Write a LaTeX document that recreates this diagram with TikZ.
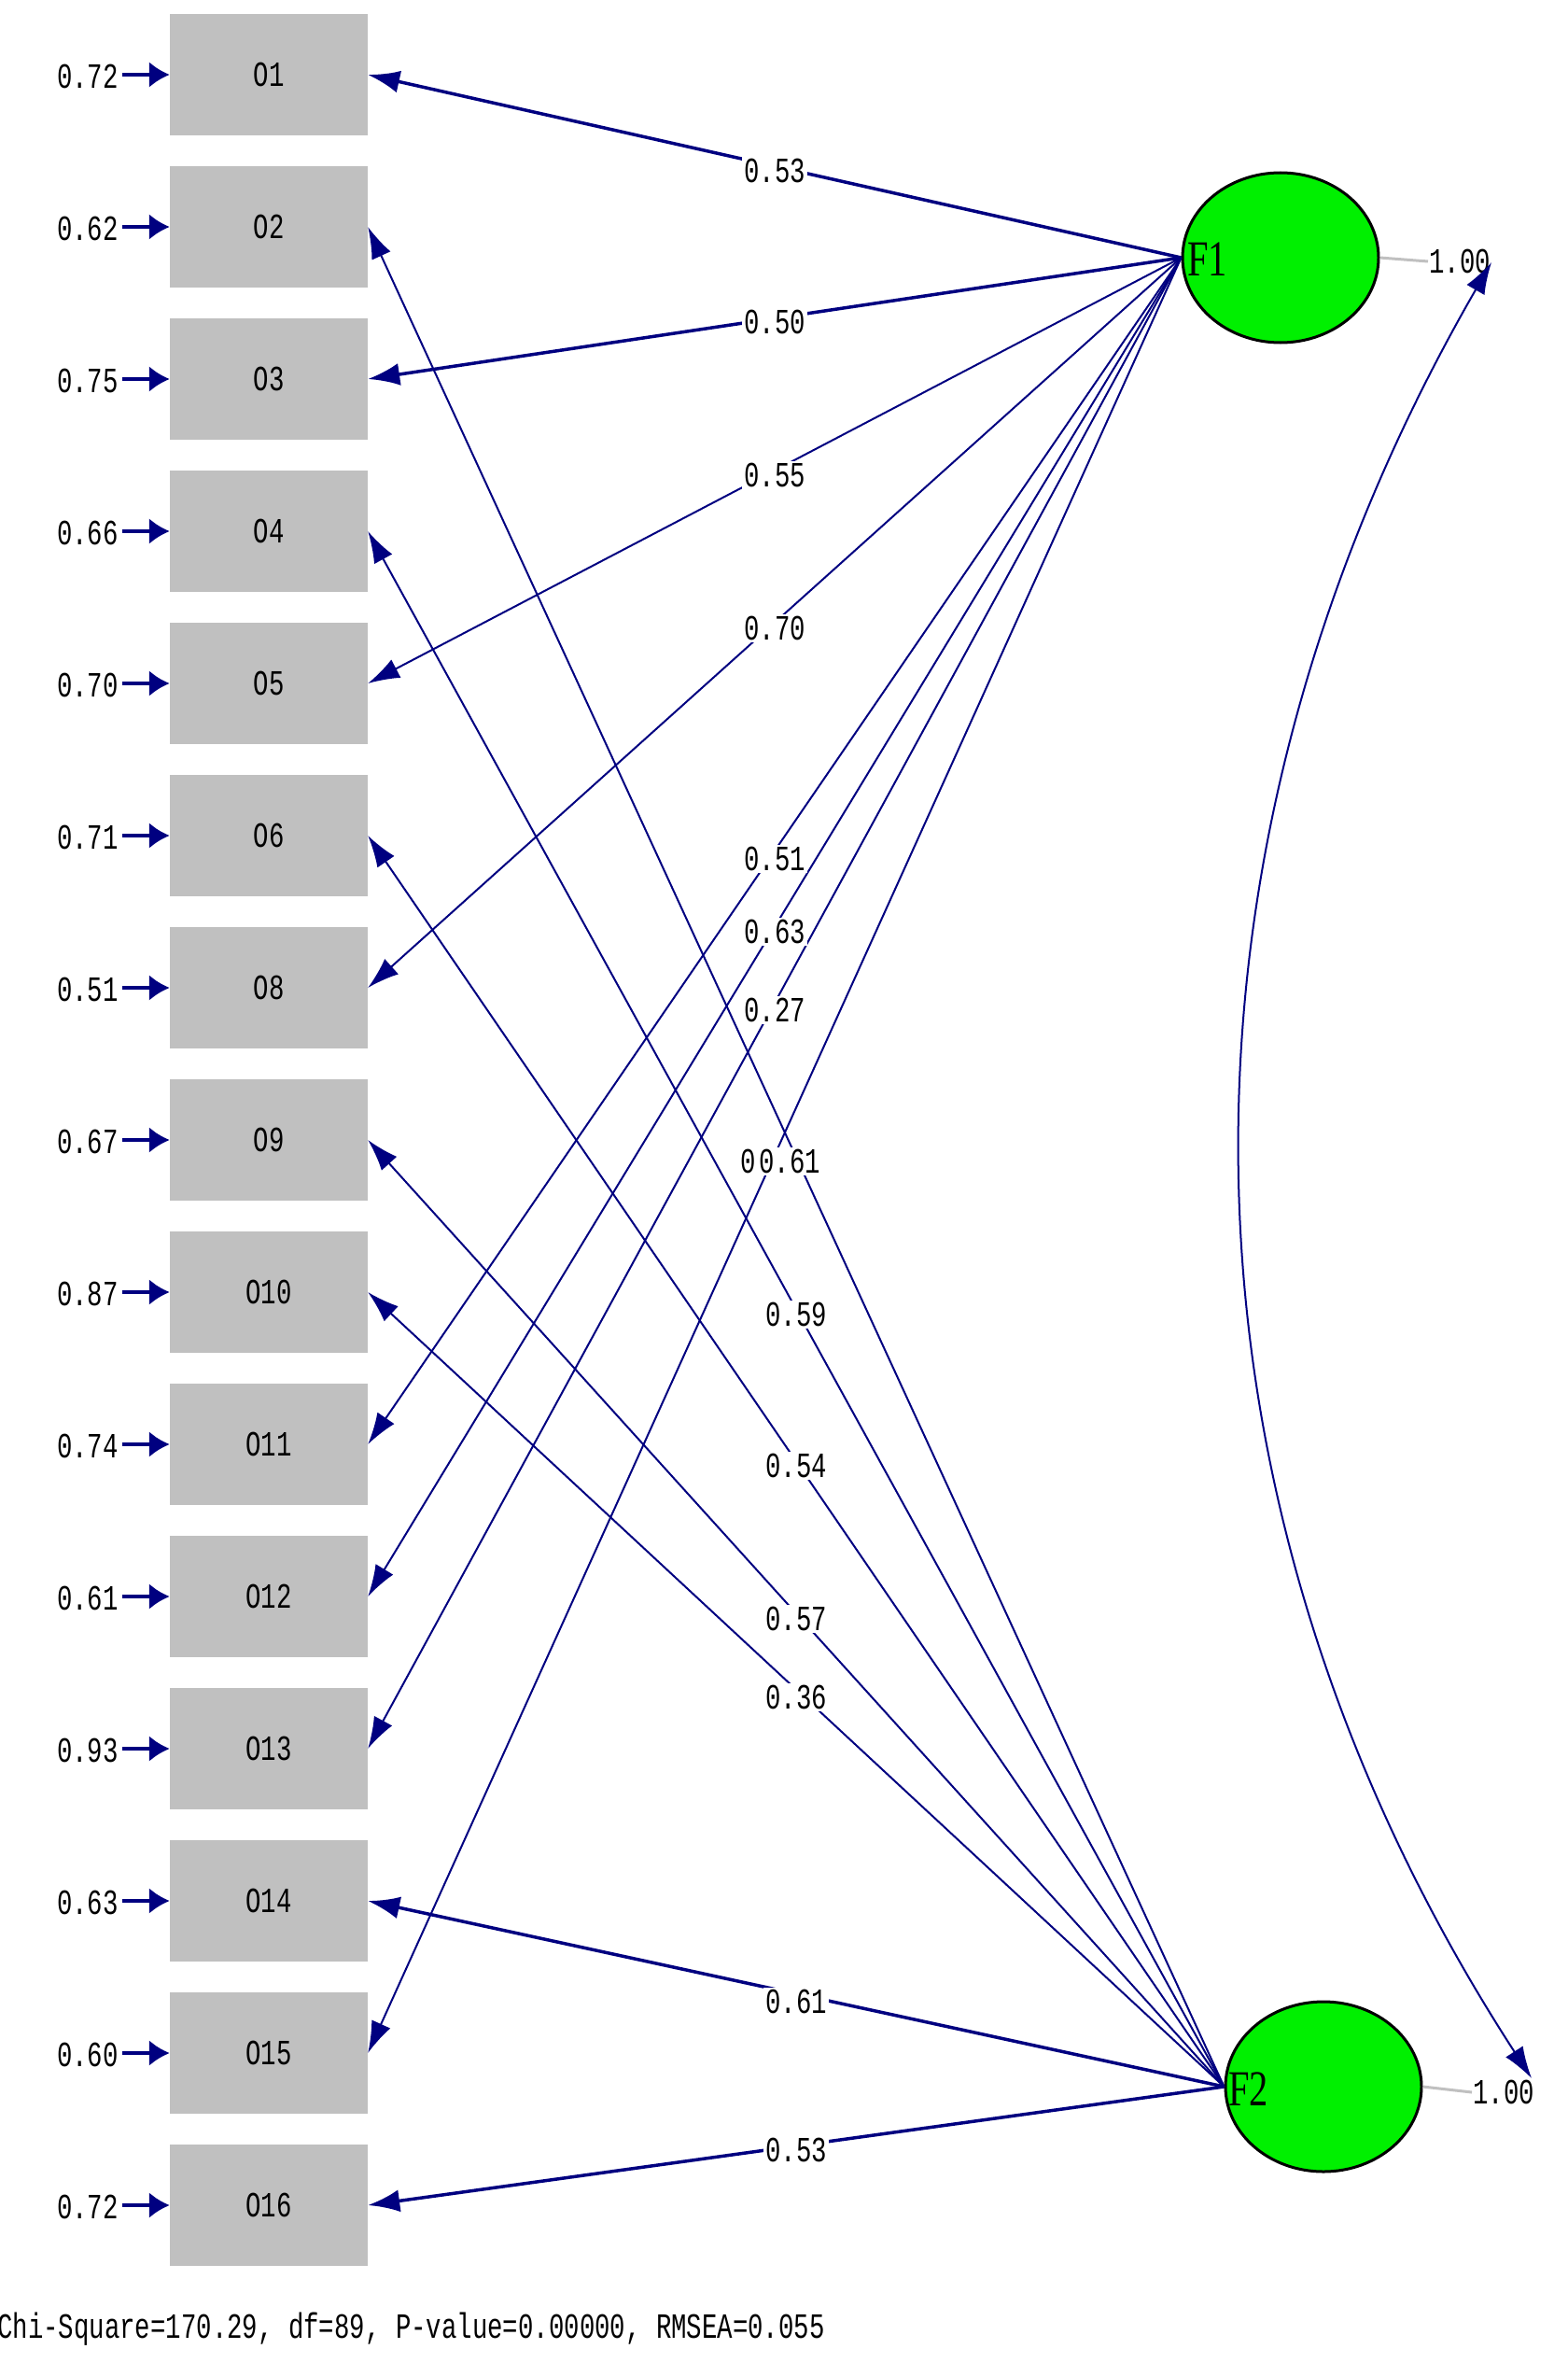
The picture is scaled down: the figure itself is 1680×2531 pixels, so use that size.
\documentclass[tikz,border=0pt]{standalone}
\usepackage{fontspec}
\usetikzlibrary{arrows.meta,shapes.geometric}
\newfontfamily\pxmono[FakeStretch=0.72]{Liberation Mono}
\newfontfamily\pxserif[FakeStretch=0.75]{Liberation Serif}
\definecolor{navyc}{RGB}{0,0,128}
\definecolor{boxg}{RGB}{192,192,192}
\definecolor{latg}{RGB}{0,240,0}
\tikzset{
  obsbox/.style={fill=boxg,draw=none,minimum width=212pt,minimum height=130pt,inner sep=0pt,font=\pxmono\fontsize{38}{38}\selectfont},
  errlab/.style={inner sep=0pt,anchor=east,font=\pxmono\fontsize{38}{38}\selectfont},
  errarr/.style={draw=navyc,line width=4pt,-{Latex[length=22pt,width=28pt]}},
  load/.style={draw=navyc,line width=2pt,-{Latex[length=34pt,width=22pt]}},
  loadthick/.style={draw=navyc,line width=3.5pt,-{Latex[length=34pt,width=24pt]}},
  coeff/.style={fill=white,inner sep=2pt,font=\pxmono\fontsize{38}{38}\selectfont},
  latent/.style={ellipse,fill=latg,draw=black,line width=3pt,minimum width=210pt,minimum height=182pt,inner sep=0pt},
  varline/.style={draw=boxg,line width=3pt},
  varlab/.style={inner sep=1pt,anchor=west,font=\pxmono\fontsize{38}{38}\selectfont},
  covarr/.style={draw=navyc,line width=2pt,{Latex[length=34pt,width=22pt]}-{Latex[length=34pt,width=22pt]}}
}
\begin{document}
\begin{tikzpicture}[x=1pt,y=-1pt]
\useasboundingbox (0,0) rectangle (1680,2531);
\begin{scope}
\clip (0,0) rectangle (1680,2531);
% observed boxes and error terms
\foreach \id/\k/\ev in {1/0/0.72,2/1/0.62,3/2/0.75,4/3/0.66,5/4/0.70,6/5/0.71,8/6/0.51,9/7/0.67,10/8/0.87,11/9/0.74,12/10/0.61,13/11/0.93,14/12/0.63,15/13/0.60,16/14/0.72}{
  \node[obsbox] (o\id) at (288,80+163*\k) {O\id};
  \node[errlab] (e\id) at (127,82+163*\k) {\ev};
  \draw[errarr] (e\id.east) ++(4,-2) coordinate (es\id) (es\id) -- (o\id.west);
}
% latent variables
\node[latent] (F1) at (1372,276) {};
\node[latent] (F2) at (1418,2235) {};
\node[anchor=west,inner sep=0pt,font=\pxserif\fontsize{54}{54}\selectfont] (F1l) at (1272,278) {F1};
\node[anchor=west,inner sep=0pt,font=\pxserif\fontsize{54}{54}\selectfont] (F2l) at (1316,2238) {F2};
% variances
\node[varlab] (v1) at (1530,280) {1.00};
\node[varlab] (v2) at (1577,2241) {1.00};
\draw[varline] (F1.east) -- (v1.west);
\draw[varline] (F2.east) -- (v2.west);
% covariance
\coordinate (c1) at (1598,281);
\coordinate (c2) at (1641,2226);
\draw[covarr] (c1) .. controls (1235,910) and (1235,1600) .. (c2);
% loadings F1
\draw[loadthick] (F1.west) -- (o1.east);
\draw[loadthick] (F1.west) -- (o3.east);
\foreach \t in {5,8,11,12,13,15}{\draw[load] (F1.west) -- (o\t.east);}
% loadings F2
\draw[loadthick] (F2.west) -- (o14.east);
\draw[loadthick] (F2.west) -- (o16.east);
\foreach \t in {2,4,6,9,10}{\draw[load] (F2.west) -- (o\t.east);}
% coefficient labels
\node[coeff] (l1) at (830,183) {0.53};
\node[coeff] (l3) at (830,345) {0.50};
\node[coeff] (l5) at (830,509) {0.55};
\node[coeff] (l8) at (830,673) {0.70};
\node[coeff] (l11) at (830,920) {0.51};
\node[coeff] (l12) at (830,998) {0.63};
\node[coeff] (l13) at (830,1082) {0.27};
\node[coeff] (l15) at (826,1244) {0.61};
\node[coeff] (l2) at (846,1244) {0.61};
\node[coeff] (l4) at (853,1408) {0.59};
\node[coeff] (l6) at (853,1570) {0.54};
\node[coeff] (l9) at (853,1734) {0.57};
\node[coeff] (l10) at (853,1818) {0.36};
\node[coeff] (l14) at (853,2144) {0.61};
\node[coeff] (l16) at (853,2303) {0.53};
% footer
\node[anchor=east,inner sep=0pt,font=\pxmono\fontsize{38}{38}\selectfont] (foot) at (884,2495) {Chi-Square=170.29, df=89, P-value=0.00000, RMSEA=0.055};
\end{scope}
\end{tikzpicture}
\end{document}
